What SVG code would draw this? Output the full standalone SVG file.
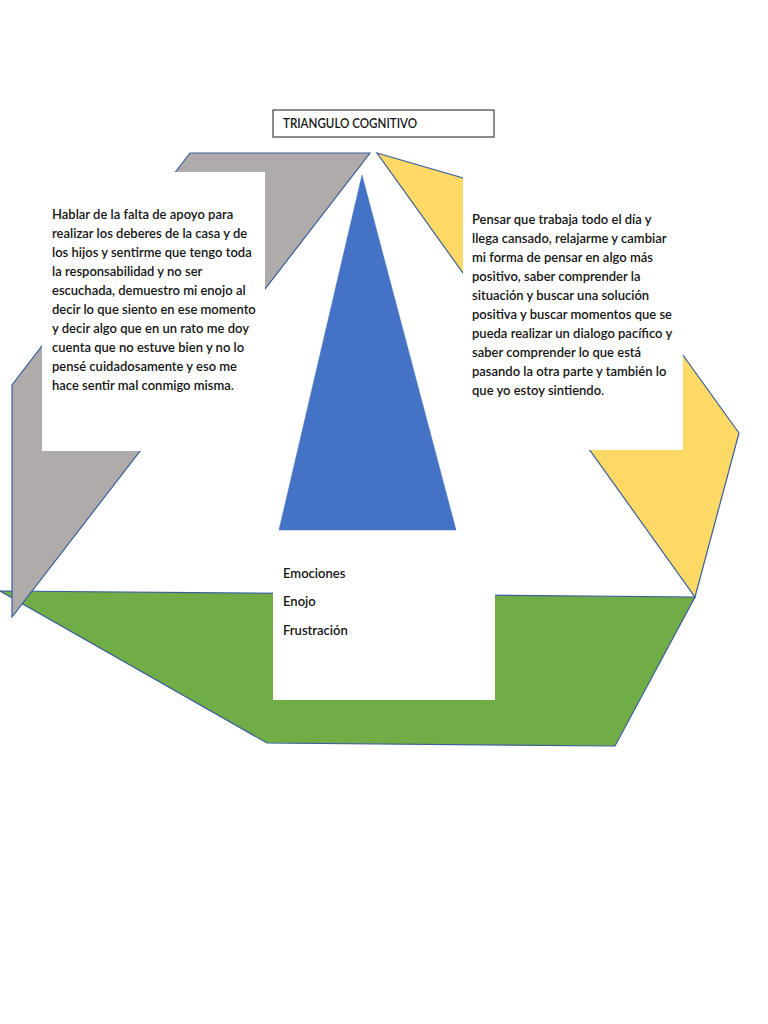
<svg xmlns="http://www.w3.org/2000/svg" width="768" height="1024" viewBox="0 0 768 1024">
<style>
.shape{stroke:#3A5F9A;stroke-width:1.2;stroke-linejoin:miter}
.box{fill:#FFFFFF;stroke:none}
.t{font-family:Lato,"Open Sans","Liberation Sans",sans-serif;font-size:13px;fill:#151515;font-weight:600}
</style>
<rect width="768" height="1024" fill="#FFFFFF"/>
<g id="green-arrow">
<polygon class="shape" fill="#70AD47" points="0,591 695,597 615,746 267,743"/>
</g>
<g id="gray-arrow">
<polygon class="shape" fill="#AFABAB" points="190,153 370,153 12,617 12,385"/>
</g>
<g id="yellow-arrow">
<polygon class="shape" fill="#FFD966" points="377,153 580,212 739,433 695,597"/>
</g>
<g id="blue-triangle">
<polygon fill="#4472C4" stroke="#4472C4" stroke-width="0.5" points="362,175 456,530 279,530"/>
</g>
<g id="title">
<rect x="273" y="110" width="221" height="27" fill="#FFFFFF" stroke="#404040" stroke-width="1.2"/>
<text class="t" x="283" y="128" font-size="12.5" textLength="134" lengthAdjust="spacingAndGlyphs">TRIANGULO COGNITIVO</text>
</g>
<g id="left-text">
<rect class="box" x="42" y="172" width="223" height="279"/>
<text class="t" x="52" y="219">Hablar de la falta de apoyo para</text>
<text class="t" x="52" y="238">realizar los deberes de la casa y de</text>
<text class="t" x="52" y="257">los hijos y sentirme que tengo toda</text>
<text class="t" x="52" y="276">la responsabilidad y no ser</text>
<text class="t" x="52" y="295">escuchada, demuestro mi enojo al</text>
<text class="t" x="52" y="314">decir lo que siento en ese momento</text>
<text class="t" x="52" y="333">y decir algo que en un rato me doy</text>
<text class="t" x="52" y="352">cuenta que no estuve bien y no lo</text>
<text class="t" x="52" y="371">pensé cuidadosamente y eso me</text>
<text class="t" x="52" y="390">hace sentir mal conmigo misma.</text>
</g>
<g id="right-text">
<rect class="box" x="463" y="177" width="220" height="273"/>
<text class="t" x="472" y="224">Pensar que trabaja todo el día y</text>
<text class="t" x="472" y="243">llega cansado, relajarme y cambiar</text>
<text class="t" x="472" y="262">mi forma de pensar en algo más</text>
<text class="t" x="472" y="281">positivo, saber comprender la</text>
<text class="t" x="472" y="300">situación y buscar una solución</text>
<text class="t" x="472" y="319">positiva y buscar momentos que se</text>
<text class="t" x="472" y="338">pueda realizar un dialogo pacífico y</text>
<text class="t" x="472" y="357">saber comprender lo que está</text>
<text class="t" x="472" y="376">pasando la otra parte y también lo</text>
<text class="t" x="472" y="395">que yo estoy sintiendo.</text>
</g>
<g id="bottom-text">
<rect class="box" x="273" y="552" width="222" height="148"/>
<text class="t" x="283" y="578">Emociones</text>
<text class="t" x="283" y="606">Enojo</text>
<text class="t" x="283" y="635">Frustración</text>
</g>
</svg>
